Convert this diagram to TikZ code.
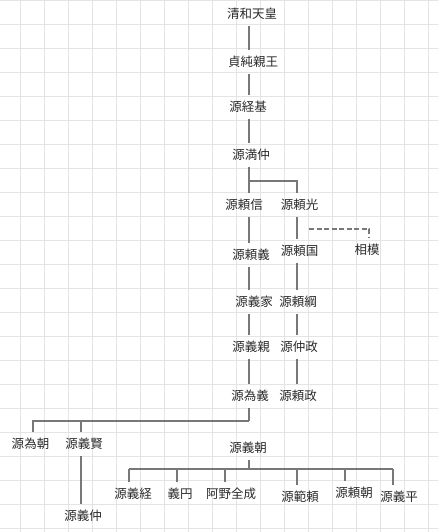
\documentclass[tikz,border=0pt]{standalone}
\usepackage{fontspec}
\newfontfamily\cjk{Noto Sans CJK JP}
\definecolor{gridc}{HTML}{E4E4E4}
\definecolor{linkc}{HTML}{787878}
\definecolor{textc}{HTML}{2A2A2A}
\begin{document}
\begin{tikzpicture}[x=1pt,y=-1pt,
  person/.style={font=\cjk\fontsize{12.5}{14}\selectfont, text=textc, inner sep=0pt,
    minimum height=24pt, text height=11pt, text depth=1.5pt},
  link/.style={draw=linkc, line width=1.6pt},
  dashlink/.style={draw=linkc, line width=1.4pt, dash pattern=on 5pt off 2.5pt},
  gridline/.style={draw=gridc, line width=0.9pt}]
\useasboundingbox (0,0) rectangle (438,532);
\fill[white] (0,0) rectangle (438,532);
\foreach \i in {0,...,17} \draw[gridline] (20.5+24*\i,0) -- (20.5+24*\i,532);
\foreach \j in {0,...,22} \draw[gridline] (0,0.5+24*\j) -- (438,0.5+24*\j);

% columns and bars
\coordinate (colA) at (249,0);
\coordinate (colB) at (297,0);
\coordinate (barMitsunaka) at (0,181);
\coordinate (barTameyoshi) at (249,421);
\coordinate (barYoshitomo) at (0,469);
\coordinate (dashstart) at (309,229);
\coordinate (dashcorner) at (369,229);

% nodes
\node[person] (seiwa) at (252,14) {清和天皇};
\node[person] (sadazumi) at (253,62) {貞純親王};
\node[person] (tsunemoto) at (248,107) {源経基};
\node[person] (mitsunaka) at (251,155) {源満仲};
\node[person] (yorinobu) at (244,205) {源頼信};
\node[person] (yorimitsu) at (299.5,205) {源頼光};
\node[person] (yoriyoshi) at (251,255) {源頼義};
\node[person] (yorikuni) at (299.5,251) {源頼国};
\node[person] (sagami) at (367,250) {相模};
\node[person] (yoshiie) at (254,302) {源義家};
\node[person] (yoritsuna) at (298,302) {源頼綱};
\node[person] (yoshichika) at (251,347) {源義親};
\node[person] (nakamasa) at (299,347) {源仲政};
\node[person] (tameyoshi) at (250,396) {源為義};
\node[person] (yorimasa) at (298,396) {源頼政};
\node[person] (tametomo) at (30.5,444) {源為朝};
\node[person] (yoshikata) at (84,444) {源義賢};
\node[person] (yoshinaka) at (83,516) {源義仲};
\node[person] (yoshitomo) at (248,448) {源義朝};
\node[person] (yoshitsune) at (133,494) {源義経};
\node[person] (gien) at (180,494) {義円};
\node[person] (zenjo) at (231,494) {阿野全成};
\node[person] (noriyori) at (300,497) {源範頼};
\node[person] (yoritomo) at (354,493) {源頼朝};
\node[person] (yoshihira) at (399,497) {源義平};

% main line
\draw[link] (seiwa.south -| colA) -- (sadazumi.north -| colA);
\draw[link] (sadazumi.south -| colA) -- (tsunemoto.north -| colA);
\draw[link] (tsunemoto.south -| colA) -- (mitsunaka.north -| colA);
\draw[link] (mitsunaka.south -| colA) -- (yorinobu.north -| colA);
\draw[link] (mitsunaka.south -| colA) -- (barMitsunaka -| colA) -| (yorimitsu.north -| colB);
\draw[link] (yorinobu.south -| colA) -- (yoriyoshi.north -| colA);
\draw[link] (yoriyoshi.south -| colA) -- (yoshiie.north -| colA);
\draw[link] (yoshiie.south -| colA) -- (yoshichika.north -| colA);
\draw[link] (yoshichika.south -| colA) -- (tameyoshi.north -| colA);

% Yorimitsu line
\draw[link] (yorimitsu.south -| colB) -- (yorikuni.north -| colB);
\draw[link] (yorikuni.south -| colB) -- (yoritsuna.north -| colB);
\draw[link] (yoritsuna.south -| colB) -- (nakamasa.north -| colB);
\draw[link] (nakamasa.south -| colB) -- (yorimasa.north -| colB);
\draw[dashlink] (dashstart) -- (dashcorner) -- (sagami.north -| dashcorner);

% Tameyoshi's children
\draw[link] (tameyoshi.south -| colA) -- (barTameyoshi);
\draw[link] (barTameyoshi) -- (barTameyoshi -| 33,0) -- (tametomo.north -| 33,0);
\draw[link] (barTameyoshi -| 81,0) -- (yoshikata.north -| 81,0);
\draw[link] (yoshikata.south -| 81,0) -- (yoshinaka.north -| 81,0);

% Yoshitomo's children
\draw[link] (yoshitomo.south -| colA) -- (barYoshitomo -| colA);
\draw[link] (barYoshitomo -| 129,0) -- (barYoshitomo -| 393,0);
\draw[link] (barYoshitomo -| 129,0) -- (yoshitsune.north -| 129,0);
\draw[link] (barYoshitomo -| 177,0) -- (gien.north -| 177,0);
\draw[link] (barYoshitomo -| 225,0) -- (zenjo.north -| 225,0);
\draw[link] (barYoshitomo -| 297,0) -- (noriyori.north -| 297,0);
\draw[link] (barYoshitomo -| 345,0) -- (yoritomo.north -| 345,0);
\draw[link] (barYoshitomo -| 393,0) -- (yoshihira.north -| 393,0);
\end{tikzpicture}
\end{document}
